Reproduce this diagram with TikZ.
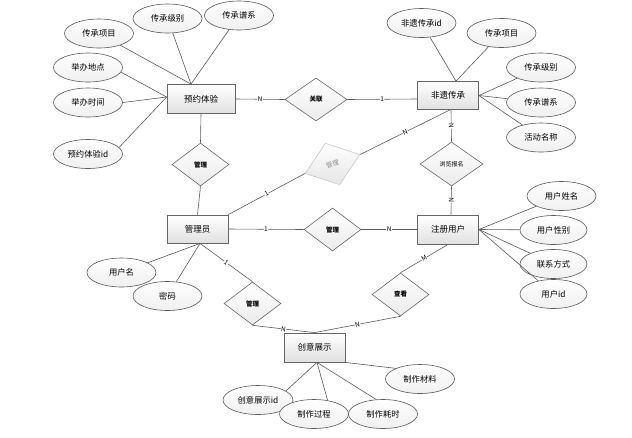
\documentclass[tikz,border=0pt]{standalone}
\usepackage{fontspec}
\setmainfont{Noto Sans CJK SC}
\usetikzlibrary{shapes.geometric,calc}
\definecolor{edgegray}{HTML}{5A5A5A}
\definecolor{boxline}{HTML}{666666}
\tikzset{
  entity/.style={rectangle, draw=boxline, line width=0.8pt, top color=white, bottom color=black!12,
    minimum width=61pt, minimum height=28pt, inner sep=0pt, font=\fontsize{8.5}{9}\selectfont},
  attr/.style={ellipse, draw=edgegray, line width=0.6pt, top color=white, bottom color=black!6,
    minimum width=69pt, minimum height=29pt, inner sep=0pt, font=\fontsize{8.3}{9}\selectfont},
  rel/.style={diamond, draw=boxline, line width=0.6pt, top color=white, bottom color=black!8,
    minimum width=57pt, minimum height=43pt, inner sep=0pt, font=\fontsize{6.5}{7}\selectfont\bfseries},
  ghost/.style={diamond, draw=black!22, line width=0.6pt, top color=white, bottom color=black!10,
    minimum width=58pt, minimum height=44pt, inner sep=0pt, text=black!45, font=\fontsize{6.5}{7}\selectfont},
  conn/.style={draw=edgegray, line width=0.6pt},
  card/.style={midway, sloped, fill=white, inner sep=0.4pt, font=\fontsize{6.5}{7}\selectfont}
}
\begin{document}
\begin{tikzpicture}[x=1pt, y=-1pt]
\useasboundingbox (0,0) rectangle (632,437);
% entities
\node[entity, minimum width=68pt, minimum height=29pt] (yy) at (201,99) {预约体验};
\node[entity] (fy) at (448,95.5) {非遗传承};
\node[entity] (gly) at (197.5,229) {管理员};
\node[entity, minimum height=29pt] (zc) at (448,229.5) {注册用户};
\node[entity, minimum height=29pt] (cy) at (314.5,347.5) {创意展示};
% relationship diamonds
\node[rel, minimum width=62pt] (gl) at (316,99.5) {关联};
\node[rel] (ga) at (200.5,164.5) {管理};
\node[ghost, rotate=19] (gd) at (332.5,164) {管理};
\node[rel] (gb) at (332.5,229.5) {管理};
\node[rel, minimum width=63pt, minimum height=44pt, font=\fontsize{6}{7}\selectfont] (ll) at (451.5,164) {浏览报名};
\node[rel] (gc) at (252.5,303.5) {管理};
\node[rel] (ck) at (400.5,294.5) {查看};
% convergence points
\coordinate (yyT) at ($(yy.north)+(-10,0)$);
\coordinate (yyL) at ($(yy.west)+(0,-2)$);
\coordinate (fyT) at ($(fy.north)+(8,0)$);
\coordinate (fyR) at (fy.east);
\coordinate (fyL) at ($(fy.west)+(0,3.5)$);
\coordinate (glyB) at ($(gly.south)+(2.5,0)$);
\coordinate (zcR) at (zc.east);
\coordinate (cyB) at ($(cy.south)+(2.5,0)$);
% attributes
\node[attr] (a1) at (99,33.5) {传承项目};
\node[attr] (a2) at (167.5,18.5) {传承级别};
\node[attr] (a3) at (239,15.5) {传承谱系};
\node[attr] (a4) at (88,67.5) {举办地点};
\node[attr] (a5) at (88,102.5) {举办时间};
\node[attr] (a6) at (88,154) {预约体验id};
\node[attr] (b1) at (421.5,23) {非遗传承id};
\node[attr] (b2) at (501.5,33) {传承项目};
\node[attr] (b3) at (541,67.5) {传承级别};
\node[attr] (b4) at (541,102.5) {传承谱系};
\node[attr] (b5) at (541,137.5) {活动名称};
\node[attr] (c1) at (121.5,272.5) {用户名};
\node[attr] (c2) at (167.5,296) {密码};
\node[attr] (d1) at (561.5,196) {用户姓名};
\node[attr, minimum width=67pt] (d2) at (553.5,230) {用户性别};
\node[attr, minimum width=67pt] (d3) at (553.5,264) {联系方式};
\node[attr, minimum width=67pt] (d4) at (553.5,294) {用户id};
\coordinate (cyBR) at (cy.south east);
\coordinate (e1t) at (452,375);
\path[conn] (a1) -- (yyT);
\path[conn] (a2) -- (yyT);
\path[conn] (a3) -- (yyT);
\path[conn] (a4.-8) -- (yyL);
\path[conn] (a5.east) -- (yyL);
\path[conn] (a6.12) -- (yyL);
\path[conn] (b1) -- (fyT);
\path[conn] (b2) -- (fyT);
\path[conn] (b3) -- (fyR);
\path[conn] (b4) -- (fyR);
\path[conn] (b5) -- (fyR);
\path[conn] (c1) -- (glyB);
\path[conn] (c2) -- (glyB);
\path[conn] (d1) -- (zcR);
\path[conn] (d2) -- (zcR);
\path[conn] (d3) -- (zcR);
\path[conn] (d4) -- (zcR);
% 创意展示 attributes
\path[conn] (cyBR) -- (e1t);
\node[attr] (e1) at (420,379) {制作材料};
\node[attr, minimum width=70pt] (e2) at (258,400) {创意展示id};
\path[conn] (e2.18) -- (cyB);
\node[attr] (e4) at (383,414) {制作耗时};
\node[attr] (e3) at (314,414) {制作过程};
\path[conn] (e3.45) -- (cyB);
\path[conn] (e4.115) -- (cyB);
% relationship connectors
\path[conn] (yy.east) -- node[card]{N} (gl.west);
\path[conn] (gl.east) -- node[card]{1} (fyL);
\path[conn] (yy.south) -- (ga.north);
\path[conn] (ga.south) -- (gly.north);
\path[conn] (gly.north east) -- node[card]{1} (gd.west);
\path[conn] (gd.east) -- node[card]{N} ($(fy.south)+(2,0)$);
\path[conn] (gly.east) -- node[card]{1} (gb.west);
\path[conn] (gb.east) -- node[card]{N} (zc.west);
\path[conn] ($(fy.south)+(3,0)$) -- node[card]{N} (ll.north);
\path[conn] (ll.south) -- node[card]{N} ($(zc.north)+(3,0)$);
\path[conn] (zc.south) -- node[card]{M} (ck.north);
\path[conn] (ck.south) -- node[card]{N} (cy.north);
\path[conn] (glyB) -- node[card]{1} (gc.north);
\path[conn] (gc.south) -- node[card]{N} (cy.north);
\end{tikzpicture}
\end{document}
